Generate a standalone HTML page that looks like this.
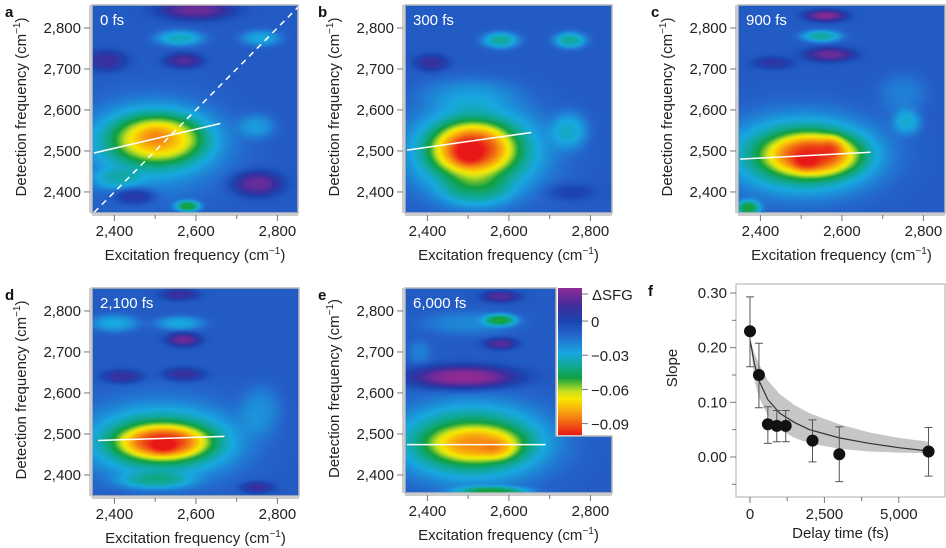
<!DOCTYPE html>
<html><head><meta charset="utf-8">
<style>
body{margin:0;background:#fff;}
#root{position:relative;width:946px;height:548px;overflow:hidden;font-family:"Liberation Sans",sans-serif;}
canvas{position:absolute;}
svg{position:absolute;left:0;top:0;}
text{font-family:"Liberation Sans",sans-serif;}
</style></head>
<body>
<div id="root">
<canvas id="cva" width="206" height="208" style="left:92px;top:5px"></canvas>
<canvas id="cvb" width="207" height="208" style="left:405px;top:5px"></canvas>
<canvas id="cvc" width="207" height="208" style="left:738px;top:5px"></canvas>
<canvas id="cvd" width="207" height="208" style="left:92px;top:288px"></canvas>
<canvas id="cve" width="207" height="205" style="left:405px;top:288px"></canvas>
<svg id="svg" width="946" height="548"></svg>
</div>
<script>
// ---------- data ----------
const xDomain=[2345,2850];
const yDomain=[2349,2856];
const freqTicks=[2400,2600,2800];
const freqTickLabels=["2,400","2,600","2,800"];
const detTicks=[2400,2500,2600,2700,2800];
const detTickLabels=["2,400","2,500","2,600","2,700","2,800"];
const panelNames=["a","b","c","d","e"];
const delayLabels=["0 fs","300 fs","900 fs","2,100 fs","6,000 fs"];
// blobs: [excitation, detection, widthX, widthY, amplitude]
const blobsA=[[2490,2510,200,130,-0.015],[2500,2525,150,80,-0.025],[2510,2530,105,55,-0.03],[2500,2535,40,25,-0.006],[2600,2845,90,25,0.03],[2380,2720,50,25,0.02],[2570,2720,45,18,0.025],[2560,2775,60,20,-0.025],[2760,2775,50,20,-0.02],[2750,2420,60,30,0.03],[2450,2390,50,20,0.02],[2580,2365,30,14,-0.04],[2750,2560,45,30,-0.015],[2400,2430,60,25,-0.015]];
const blobsB=[[2520,2500,200,140,-0.015],[2520,2500,150,100,-0.03],[2510,2505,95,60,-0.045],[2500,2495,35,30,-0.01],[2580,2770,45,20,-0.03],[2750,2770,40,20,-0.03],[2750,2550,45,45,-0.02],[2410,2715,40,20,0.02],[2520,2400,90,40,-0.015],[2750,2400,60,20,0.01],[2500,2640,120,40,-0.01]];
const blobsC=[[2500,2490,220,120,-0.015],[2510,2490,170,85,-0.03],[2530,2490,110,50,-0.045],[2580,2515,25,25,-0.008],[2510,2470,30,20,-0.008],[2560,2830,50,14,0.035],[2570,2735,60,17,0.03],[2430,2715,50,15,0.015],[2550,2780,50,15,-0.03],[2760,2570,35,30,-0.02],[2370,2360,30,20,-0.04],[2750,2640,60,50,-0.01]];
const blobsD=[[2510,2485,220,120,-0.015],[2520,2480,170,75,-0.03],[2520,2480,105,40,-0.045],[2520,2470,30,18,-0.008],[2560,2840,45,14,0.02],[2570,2730,40,17,0.03],[2420,2640,50,17,0.02],[2570,2645,50,17,0.02],[2400,2770,60,22,-0.02],[2560,2770,60,18,-0.02],[2750,2370,40,14,0.02],[2760,2560,50,60,-0.012],[2500,2385,90,20,-0.02]];
const blobsE=[[2510,2480,220,120,-0.015],[2510,2480,175,85,-0.03],[2520,2475,110,42,-0.03],[2580,2460,40,25,-0.008],[2490,2638,130,28,0.04],[2580,2835,45,14,0.025],[2580,2720,40,14,0.025],[2580,2778,40,15,-0.035],[2500,2770,120,30,-0.012],[2560,2360,90,12,-0.035],[2380,2700,30,30,-0.01]];
const slopeLineX=[[2350,2660],[2350,2655],[2350,2670],[2360,2670],[2350,2690]];
const slopeLineY=[[2495,2567],[2502,2545],[2480,2497],[2484,2494],[2474,2474]];
// colormap value stops
const cmapVals=[0.029,0.012,0,-0.012,-0.028,-0.04,-0.05,-0.062,-0.068,-0.08,-0.1];
const cmapCols=["#8e2a94","#3a2f9e","#1c44b0","#2466cc","#18a8e0","#10a890","#10a040","#c8e020","#f8e800","#f8a010","#e81818"];
const cbarTicks=[0,-0.03,-0.06,-0.09];
const cbarTickLabels=["0","\u22120.03","\u22120.06","\u22120.09"];
// panel f data
const delayT=[0,300,600,900,1200,2100,3000,6000];
const slopeV=[0.23,0.15,0.06,0.057,0.057,0.03,0.005,0.01];
const errLo=[0.165,0.09,0.025,0.028,0.028,-0.009,-0.045,-0.035];
const errHi=[0.293,0.208,0.092,0.085,0.085,0.068,0.055,0.054];
const fitT=[0,150,300,600,1000,1500,2000,3000,4000,5000,6000];
const fitV=[0.215,0.17,0.14,0.105,0.08,0.063,0.05,0.035,0.025,0.017,0.011];
const bandHi=[0.215,0.19,0.17,0.14,0.115,0.095,0.08,0.06,0.045,0.035,0.028];
const bandLo=[0.215,0.14,0.11,0.075,0.05,0.035,0.025,0.015,0.01,0.008,0.007];
const fXTicks=[0,2500,5000];
const fXTickLabels=["0","2,500","5,000"];
const fXMinor=[1250,3750];
const fYTicks=[0.3,0.2,0.1,0];
const fYTickLabels=["0.30","0.20","0.10","0.00"];
const fYMinor=[0.25,0.15,0.05,-0.05];

// ---------- helpers ----------
const NS="http://www.w3.org/2000/svg";
const svg=document.getElementById('svg');
function mk(tag,attrs,parent){const e=document.createElementNS(NS,tag);for(const k in attrs)e.setAttribute(k,attrs[k]);(parent||svg).appendChild(e);return e;}
function hex(c){return [parseInt(c.substr(1,2),16),parseInt(c.substr(3,2),16),parseInt(c.substr(5,2),16)];}
const cmapRGB=cmapCols.map(hex);
function cmap(v){
  if(v>=cmapVals[0])return cmapRGB[0];
  for(let i=0;i<cmapVals.length-1;i++){
    if(v<=cmapVals[i]&&v>=cmapVals[i+1]){const t=(cmapVals[i]-v)/(cmapVals[i]-cmapVals[i+1]);const a=cmapRGB[i],b=cmapRGB[i+1];return [a[0]+(b[0]-a[0])*t,a[1]+(b[1]-a[1])*t,a[2]+(b[2]-a[2])*t];}
  }
  return cmapRGB[cmapRGB.length-1];
}
const pxPerX=0.4075, pxPerY=0.41;
const panels=[
 {id:'cva',L:92,T:5,W:206,H:208,blobs:blobsA},
 {id:'cvb',L:405,T:5,W:207,H:208,blobs:blobsB},
 {id:'cvc',L:738,T:5,W:207,H:208,blobs:blobsC},
 {id:'cvd',L:92,T:288,W:207,H:208,blobs:blobsD},
 {id:'cve',L:405,T:288,W:207,H:205,blobs:blobsE}
];
function xs(p,v){return p.L+(v-xDomain[0])*pxPerX;}
function ys(p,v){return p.T+(yDomain[1]-v)*pxPerY;}

panels.forEach((p,pi)=>{
  const cv=document.getElementById(p.id),ctx=cv.getContext('2d');
  const img=ctx.createImageData(p.W,p.H);
  for(let j=0;j<p.H;j++)for(let i=0;i<p.W;i++){
    const fx=xDomain[0]+(i+0.5)/pxPerX, fy=yDomain[1]-(j+0.5)/pxPerY;
    let v=-0.008;
    for(const b of p.blobs){const dx=(fx-b[0])/b[2],dy=(fy-b[1])/b[3];const r=dx*dx+dy*dy;v+=b[4]*Math.exp(-Math.pow(r,1.4));}
    const c=cmap(v),k=(j*p.W+i)*4;img.data[k]=c[0];img.data[k+1]=c[1];img.data[k+2]=c[2];img.data[k+3]=255;
  }
  ctx.putImageData(img,0,0);
  if(pi===4){ctx.fillStyle='#fff';ctx.fillRect(151,0,60,148);}
  const g=mk('g',{});
  
  
  if(pi===4){
    mk('path',{d:`M${p.L},${p.T}H${p.L+151}V${p.T+148}H${p.L+p.W}V${p.T+p.H}H${p.L}Z`,fill:'none',stroke:'#b8b8b8','stroke-width':1.5},g);
  } else mk('rect',{x:p.L,y:p.T,width:p.W,height:p.H,fill:'none',stroke:'#b8b8b8','stroke-width':1.5},g);
  const bot=p.T+p.H+2, lft=p.L-2;
  mk('line',{x1:p.L,x2:p.L+p.W,y1:bot,y2:bot,stroke:'#999','stroke-width':1},g);
  mk('line',{x1:lft,x2:lft,y1:p.T,y2:p.T+p.H,stroke:'#999','stroke-width':1},g);
  freqTicks.forEach((t,i)=>{
    const x=xs(p,t);
    mk('line',{x1:x,x2:x,y1:bot,y2:bot+6,stroke:'#777'},g);
    const tx=mk('text',{x:x,y:bot+21,'text-anchor':'middle','font-size':15,fill:'#222'},g);tx.textContent=freqTickLabels[i];
    
    
  });
  [2500,2700].forEach(t=>{const x=xs(p,t);mk('line',{x1:x,x2:x,y1:bot,y2:bot+4,stroke:'#777'},g);});
  detTicks.forEach((t,i)=>{
    const y=ys(p,t);
    mk('line',{x1:lft-6,x2:lft,y1:y,y2:y,stroke:'#777'},g);
    const tx=mk('text',{x:lft-9,y:y+5,'text-anchor':'end','font-size':15,fill:'#222'},g);tx.textContent=detTickLabels[i];
    
    
  });
  const xt=mk('text',{x:p.L+p.W/2,y:p.T+p.H+47,'text-anchor':'middle','font-size':15,fill:'#222'},g);
  xt.innerHTML='Excitation frequency (cm<tspan dy="-6" font-size="10">\u22121</tspan><tspan dy="6">)</tspan>';
  
  
  const cy=p.T+p.H/2-2, cx=p.L-66;
  const yt=mk('text',{x:cx,y:cy,'text-anchor':'middle','font-size':15,fill:'#222',transform:`rotate(-90 ${cx} ${cy})`},g);
  yt.innerHTML='Detection frequency (cm<tspan dy="-6" font-size="10">\u22121</tspan><tspan dy="6">)</tspan>';
  
  
  const dl=mk('text',{x:p.L+8,y:p.T+20,'font-size':15,fill:'#fff'},g);dl.textContent=delayLabels[pi];
  
  
  const pl=mk('text',{x:p.L-87,y:p.T+12,'font-size':15,'font-weight':'bold',fill:'#111'},g);pl.textContent=panelNames[pi];
  
  
  const sl=mk('line',{x1:xs(p,slopeLineX[pi][0]),x2:xs(p,slopeLineX[pi][1]),y1:ys(p,slopeLineY[pi][0]),y2:ys(p,slopeLineY[pi][1]),stroke:'#fff','stroke-width':1.5},g);
  
  
  if(pi===0){
    const dg=mk('line',{x1:xs(p,2350),y1:ys(p,2350),x2:xs(p,2850),y2:ys(p,2850),stroke:'#fff','stroke-width':1.5,'stroke-dasharray':'6,5'},g);
    
    
  }
});

// colorbar
(function(){
  const g=mk('g',{});
  
  
  const top=288,bot=435,vTop=0.029,vBot=-0.1;
  const cyv=v=>top+(vTop-v)/(vTop-vBot)*(bot-top);
  const defs=mk('defs',{},g);
  const lg=mk('linearGradient',{id:'cbg',x1:0,y1:0,x2:0,y2:1},defs);
  cmapVals.forEach((v,i)=>mk('stop',{offset:((vTop-v)/(vTop-vBot)).toFixed(3),'stop-color':cmapCols[i]},lg));
  mk('rect',{x:558,y:top,width:24,height:bot-top,fill:'url(#cbg)'},g);
  const t0=mk('text',{x:592,y:top+12,'font-size':15,fill:'#222'},g);t0.textContent='\u0394SFG';
  mk('line',{x1:582,x2:588,y1:top+6,y2:top+6,stroke:'#777'},g);
  cbarTicks.forEach((v,i)=>{const y=cyv(v);mk('line',{x1:582,x2:588,y1:y,y2:y,stroke:'#777'},g);
    const t=mk('text',{x:591,y:y+6,'font-size':15,fill:'#222'},g);t.textContent=cbarTickLabels[i];
    
    });
})();

// panel f
(function(){
  const L=736,R=945,T=284,B=497;
  const fx=t=>750+t*0.02976;
  const fy=v=>457-v*546.7;
  const g=mk('g',{});
  
  
  mk('rect',{x:L,y:T,width:R-L,height:B-T,fill:'none',stroke:'#bbb','stroke-width':1.2},g);
  let d='M'+fitT.map((t,i)=>fx(t)+','+fy(bandHi[i])).join('L');
  for(let i=fitT.length-1;i>=0;i--)d+='L'+fx(fitT[i])+','+fy(bandLo[i]);
  const band=mk('path',{d:d+'Z',fill:'#c6c6c6'},g);
  
  
  const fit=mk('path',{d:'M'+fitT.map((t,i)=>fx(t)+','+fy(fitV[i])).join('L'),fill:'none',stroke:'#333','stroke-width':1.2},g);
  
  
  delayT.forEach((t,i)=>{
    const x=fx(t);
    const eb=mk('path',{d:`M${x},${fy(errLo[i])}V${fy(errHi[i])}M${x-4},${fy(errLo[i])}H${x+4}M${x-4},${fy(errHi[i])}H${x+4}`,stroke:'#555','stroke-width':1,fill:'none'},g);
    
    
  });
  delayT.forEach((t,i)=>{
    const c=mk('circle',{cx:fx(t),cy:fy(slopeV[i]),r:6,fill:'#111'},g);
    
    
  });
  fXTicks.forEach((t,i)=>{const x=fx(t);mk('line',{x1:x,x2:x,y1:B,y2:B+6,stroke:'#777'},g);
    const tx=mk('text',{x:x,y:B+22,'text-anchor':'middle','font-size':15,fill:'#222'},g);tx.textContent=fXTickLabels[i];
    
    });
  fXMinor.forEach(t=>{const x=fx(t);mk('line',{x1:x,x2:x,y1:B,y2:B+4,stroke:'#777'},g);});
  fYTicks.forEach((v,i)=>{const y=fy(v);mk('line',{x1:L-6,x2:L,y1:y,y2:y,stroke:'#777'},g);
    const tx=mk('text',{x:L-9,y:y+5,'text-anchor':'end','font-size':15,fill:'#222'},g);tx.textContent=fYTickLabels[i];
    
    });
  fYMinor.forEach(v=>{const y=fy(v);mk('line',{x1:L-4,x2:L,y1:y,y2:y,stroke:'#777'},g);});
  const xt=mk('text',{x:(L+R)/2,y:538,'text-anchor':'middle','font-size':15,fill:'#222'},g);xt.textContent='Delay time (fs)';
  
  
  const yt=mk('text',{x:677,y:368,'text-anchor':'middle','font-size':15,fill:'#222',transform:'rotate(-90 677 368)'},g);yt.textContent='Slope';
  
  
  const pl=mk('text',{x:648,y:296,'font-size':15,'font-weight':'bold',fill:'#111'},g);pl.textContent='f';
  
  
})();
</script>
</body></html>
